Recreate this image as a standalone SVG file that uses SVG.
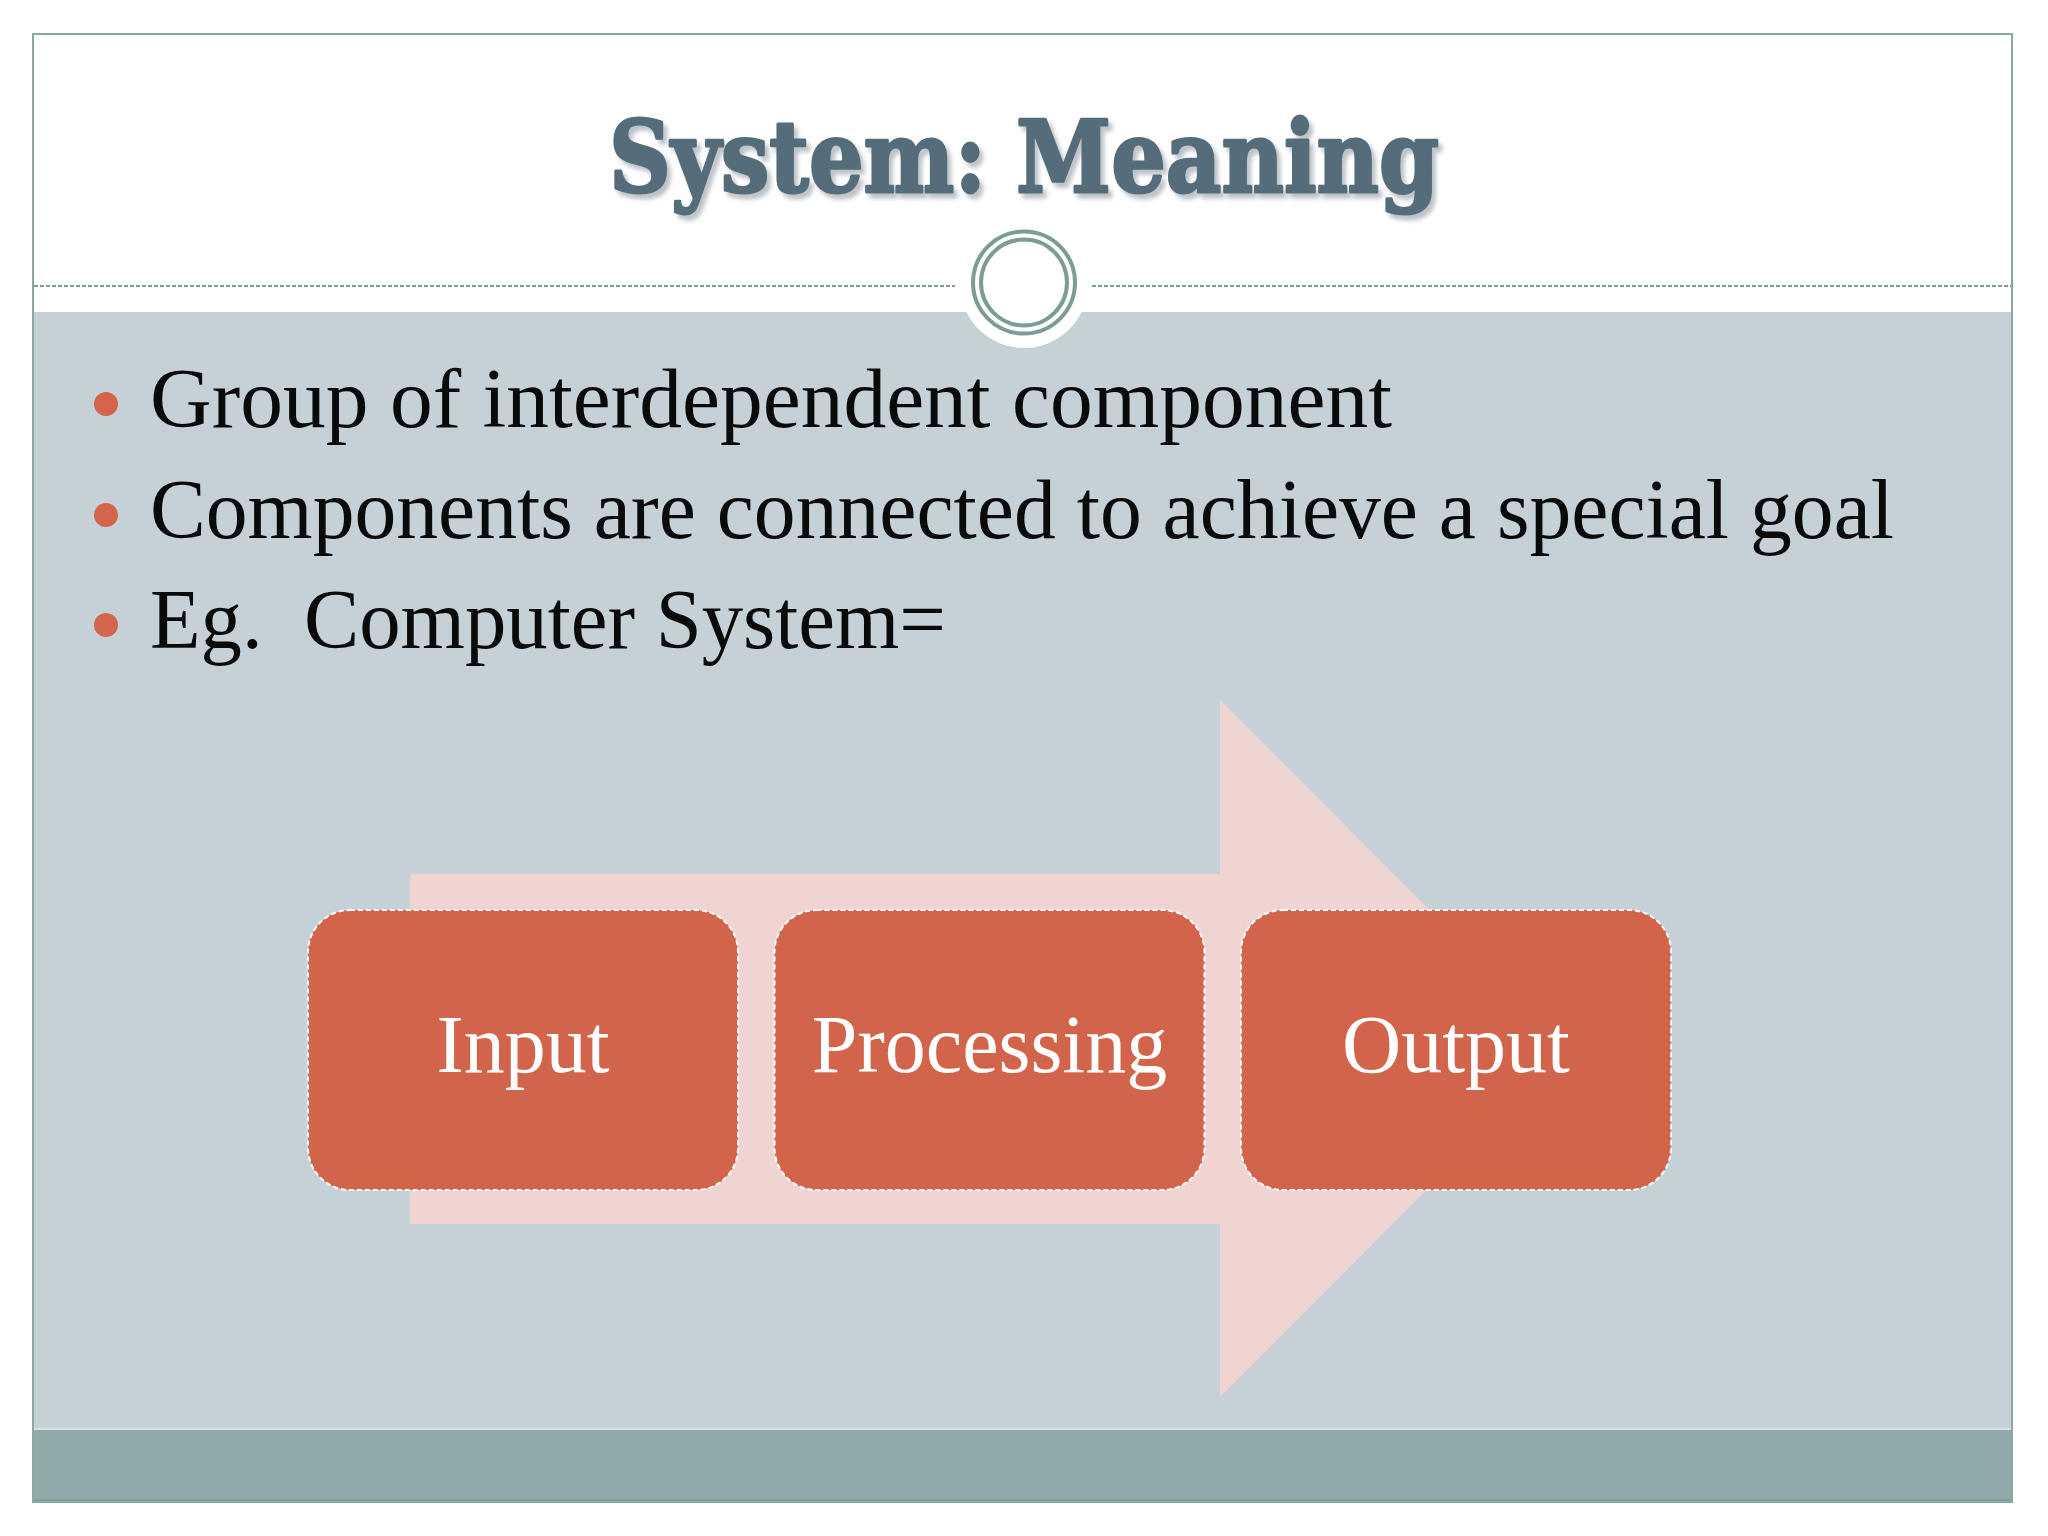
<svg xmlns="http://www.w3.org/2000/svg" width="2048" height="1536" viewBox="0 0 2048 1536">
  <defs>
    <style>
      .bullet { font-family: "Liberation Serif", "Times New Roman", serif; font-size: 85px; fill: #0a0a0a; }
      .dot { fill: #d2654b; }
      .box { fill: #d2644b; stroke: #ffffff; stroke-width: 2; stroke-dasharray: 5 3; }
      .boxlabel { font-family: "Liberation Serif", "Times New Roman", serif; font-size: 82px; fill: #ffffff; text-anchor: middle; }
      .title { font-family: "DejaVu Serif", "Liberation Serif", serif; font-weight: bold; font-size: 100px; text-anchor: middle; }
      .dash { stroke: #7d9e98; stroke-width: 2; stroke-dasharray: 4 2; fill: none; }
      .ring { fill: none; stroke: #7c9c96; stroke-width: 4; }
    </style>
    <filter id="tshadow" x="-10%" y="-20%" width="120%" height="160%">
      <feDropShadow dx="4" dy="5" stdDeviation="2" flood-color="#8f9aa1" flood-opacity="0.6"/>
    </filter>
  </defs>

  <!-- page background -->
  <rect x="0" y="0" width="2048" height="1536" fill="#ffffff"/>

  <!-- slide content bands -->
  <rect x="33" y="312" width="1979" height="1118" fill="#c5d1d7"/>
  <rect x="33" y="1430" width="1979" height="72" fill="#8eaaa9"/>
  <line x1="33" y1="1429" x2="2012" y2="1429" stroke="#d6dfe3" stroke-width="2"/>
  <line x1="33" y1="1501" x2="2012" y2="1501" stroke="#7a9c95" stroke-width="3"/>

  <!-- frame -->
  <rect x="33" y="34" width="1979" height="1468" fill="none" stroke="#8aa7a2" stroke-width="2"/>

  <!-- divider with ring -->
  <line class="dash" x1="34" y1="286" x2="955" y2="286"/>
  <line class="dash" x1="1092" y1="286" x2="2011" y2="286"/>
  <circle cx="1024" cy="284" r="64" fill="#ffffff"/>
  <circle class="ring" cx="1024" cy="282.5" r="51"/>
  <circle class="ring" cx="1024" cy="282.5" r="43"/>

  <!-- title -->
  <g id="title">
    <text class="title" x="1024" y="192" textLength="830" lengthAdjust="spacingAndGlyphs" fill="#546d7a" stroke="#546d7a" stroke-width="3" stroke-linejoin="round" filter="url(#tshadow)">System: Meaning</text>
  </g>

  <!-- bullets -->
  <g id="bullets">
    <circle class="dot" cx="106" cy="404" r="12"/>
    <text class="bullet" x="150" y="427" textLength="1242" lengthAdjust="spacingAndGlyphs">Group of interdependent component</text>
    <circle class="dot" cx="106" cy="515" r="12"/>
    <text class="bullet" x="150" y="538" textLength="1744" lengthAdjust="spacingAndGlyphs">Components are connected to achieve a special goal</text>
    <circle class="dot" cx="106" cy="625" r="12"/>
    <text class="bullet" x="150" y="648" textLength="796" lengthAdjust="spacingAndGlyphs" xml:space="preserve">Eg.  Computer System=</text>
  </g>

  <!-- background flow arrow -->
  <g id="connectors">
    <polygon points="410,874 1220,874 1220,700 1568,1048.5 1220,1397 1220,1224 410,1224" fill="#f0d4d1"/>
  </g>

  <!-- nodes -->
  <g id="node-input">
    <rect class="box" x="308" y="910" width="430" height="280" rx="42" ry="42"/>
    <text class="boxlabel" x="523" y="1072">Input</text>
  </g>
  <g id="node-processing">
    <rect class="box" x="774.5" y="910" width="430" height="280" rx="42" ry="42"/>
    <text class="boxlabel" x="989.5" y="1072">Processing</text>
  </g>
  <g id="node-output">
    <rect class="box" x="1241" y="910" width="430" height="280" rx="42" ry="42"/>
    <text class="boxlabel" x="1456" y="1072">Output</text>
  </g>
</svg>
